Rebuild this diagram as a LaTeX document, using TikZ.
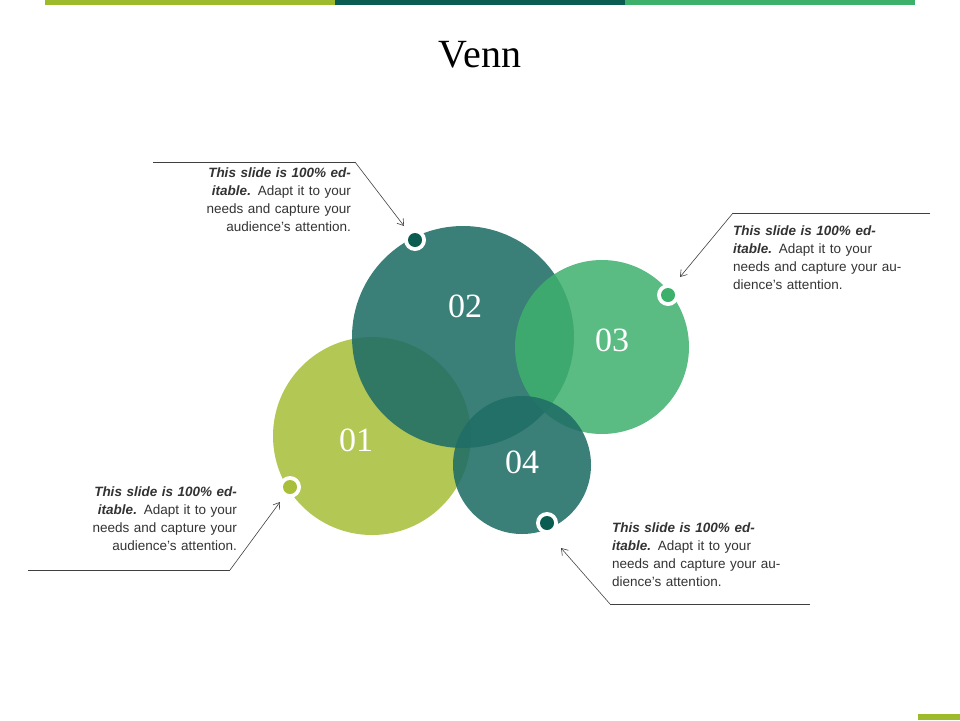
\documentclass[tikz,border=0pt]{standalone}
\usepackage{fontspec}
\setmainfont{Liberation Serif}
\setsansfont{Liberation Sans}
\usetikzlibrary{arrows.meta}
\definecolor{olive}{HTML}{A9BF3C}
\definecolor{teal}{HTML}{1F6E66}
\definecolor{grn}{HTML}{3DB06C}
\definecolor{bar1}{HTML}{9DB92C}
\definecolor{bar2}{HTML}{0A5C50}
\tikzset{x=1pt,y=-1pt,
 circ/.style={circle,inner sep=0pt,fill opacity=0.88},
 num/.style={text=white,font=\fontsize{34}{34}\selectfont},
 ring/.style={circle,fill=white,minimum size=22pt,inner sep=0pt},
 txt/.style={font=\sffamily\fontsize{13.5}{18}\selectfont,text width=175pt,inner sep=0pt,text=black!80},
 lead/.style={draw=black!75,line width=0.6pt},
 arr/.style={lead,-{Straight Barb[length=6pt,width=8pt]}}}
\begin{document}
\begin{tikzpicture}
\useasboundingbox (0,0) rectangle (960,720);
\fill[bar1] (45,0) rectangle (335,5);
\fill[bar2] (335,0) rectangle (625,5);
\fill[grn] (625,0) rectangle (915,5);
\fill[bar1] (918,714) rectangle (960,720);
\node (title) at (480,55) {\fontsize{40}{40}\selectfont Venn};
\node[circ,fill=olive,minimum size=198pt] (c1) at (372,436) {};
\node[circ,fill=teal,minimum size=222pt] (c2) at (463,337) {};
\node[circ,fill=grn,minimum size=174pt,fill opacity=0.85] (c3) at (602,347) {};
\node[circ,fill=teal,minimum size=138pt] (c4) at (522,465) {};
\node[num] at (356,440) {01};
\node[num] at (465,306) {02};
\node[num] at (612,340) {03};
\node[num] at (522,462) {04};
\node[ring] (r1) at (290,487) {}; \fill[olive] (r1) circle (7);
\node[ring] (r2) at (415,240) {}; \fill[bar2] (r2) circle (7);
\node[ring] (r3) at (668,295) {}; \fill[grn] (r3) circle (7);
\node[ring] (r4) at (547,523) {}; \fill[bar2] (r4) circle (7);
% callouts
\node[txt,align=right,anchor=north east] (t2) at (351,168) {\textbf{\textit{This slide is 100\% editable.}} Adapt it to your needs and capture your audience's attention.};
\coordinate (a2) at (153,162); \coordinate (b2) at (355,162); \coordinate (e2) at (404,226);
\draw[lead] (a2) -- (b2); \draw[arr] (b2) -- (e2);
\node[txt,align=left,anchor=north west] (t3) at (733,226) {\textbf{\textit{This slide is 100\% editable.}} Adapt it to your needs and capture your audience's attention.};
\coordinate (a3) at (930,213); \coordinate (b3) at (733,213); \coordinate (e3) at (680,277);
\draw[lead] (a3) -- (b3); \draw[arr] (b3) -- (e3);
\node[txt,align=right,anchor=north east] (t1) at (237,487) {\textbf{\textit{This slide is 100\% editable.}} Adapt it to your needs and capture your audience's attention.};
\coordinate (a1) at (28,570); \coordinate (b1) at (230,570); \coordinate (e1) at (280,502);
\draw[lead] (a1) -- (b1); \draw[arr] (b1) -- (e1);
\node[txt,align=left,anchor=north west] (t4) at (612,523) {\textbf{\textit{This slide is 100\% editable.}} Adapt it to your needs and capture your audience's attention.};
\coordinate (a4) at (810,604); \coordinate (b4) at (610,604); \coordinate (e4) at (561,548);
\draw[lead] (a4) -- (b4); \draw[arr] (b4) -- (e4);
\end{tikzpicture}
\end{document}
